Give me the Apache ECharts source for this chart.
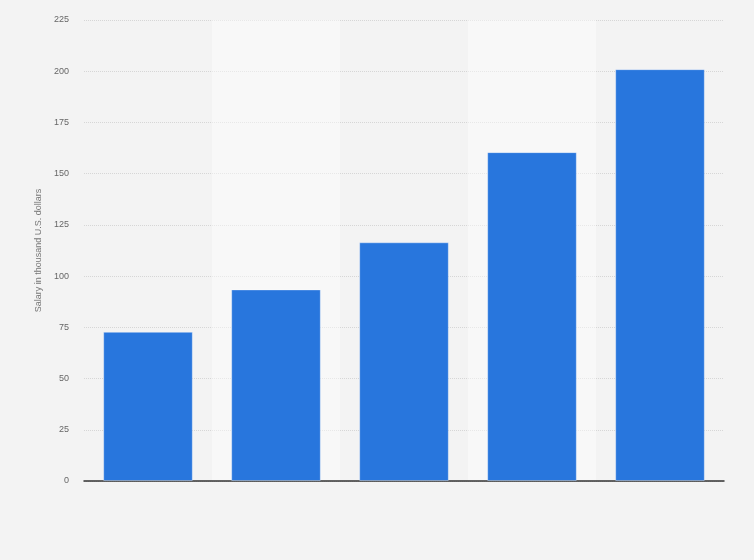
<!DOCTYPE html>
<html>
<head>
<meta charset="utf-8">
<script src="https://cdn.jsdelivr.net/npm/echarts@6/dist/echarts.min.js"></script>
<style>
    html, body { margin: 0; padding: 0; background: #f3f3f3; }
    #salary { width: 754px; height: 560px; }
</style>
</head>
<body>
<div id="salary"></div>
<script>
// 类目（原图无横轴标签）
var categories = ['1', '2', '3', '4', '5'];
// 年薪，单位：千美元
var salaries = [72.8, 93.5, 116.5, 160.5, 201];
// 纵轴刻度
var yTicks = [0, 25, 50, 75, 100, 125, 150, 175, 200, 225];

var myChart = echarts.init(document.getElementById('salary'));

var option = {
    backgroundColor: '#f3f3f3',
    animation: false,
    grid: {
        left: 84,
        right: 30,
        top: 20,
        bottom: 79
    },
    xAxis: {
        type: 'category',
        data: categories,
        axisLine: { lineStyle: { color: '#333', width: 1.5 } },
        axisTick: { show: false },
        axisLabel: { show: false },
        splitArea: {
            show: true,
            areaStyle: { color: ['rgba(0,0,0,0)', 'rgba(255,255,255,0.45)'] }
        }
    },
    yAxis: {
        type: 'value',
        min: yTicks[0],
        max: yTicks[yTicks.length - 1],
        interval: 25,
        name: 'Salary in thousand U.S. dollars',
        nameLocation: 'middle',
        nameGap: 40,
        nameTextStyle: { color: '#777', fontSize: 9, fontFamily: 'Liberation Sans' },
        axisLine: { show: false },
        axisTick: { show: false },
        axisLabel: { color: '#666', fontSize: 9, fontFamily: 'Liberation Sans', margin: 15 },
        splitLine: { lineStyle: { color: '#d6d6d6', type: 'dotted' } }
    },
    series: [{
        type: 'bar',
        data: salaries,
        barWidth: '70%',
        itemStyle: {
            color: '#2876dd',
            borderColor: 'rgba(255,255,255,0.35)',
            borderWidth: 1
        }
    }]
};

myChart.setOption(option);
</script>
</body>
</html>
